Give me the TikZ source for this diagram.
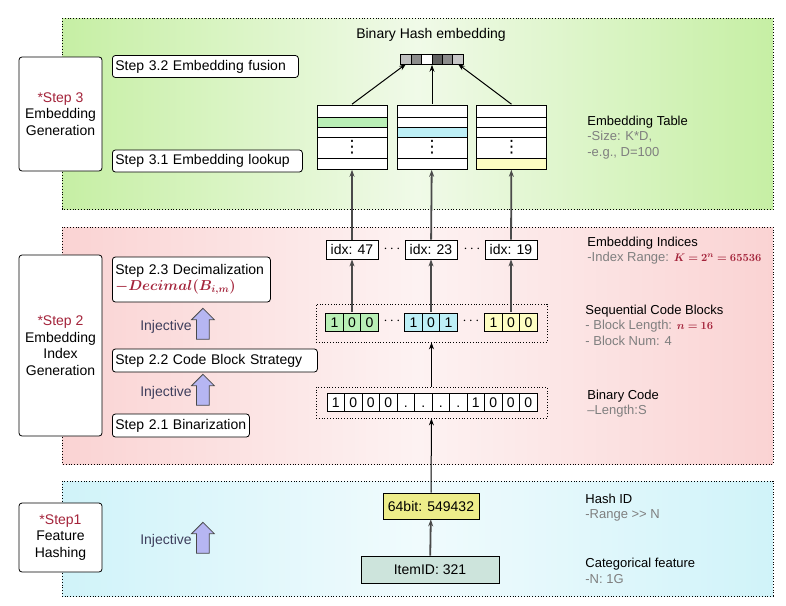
\documentclass[tikz,border=0pt]{standalone}
\usepackage{fontspec}
\setmainfont{Liberation Sans}
\newfontfamily\dotsfont{DejaVu Sans}
\usepackage{bm}
\usetikzlibrary{matrix,shapes.arrows,positioning,arrows.meta}

\definecolor{stepred}{HTML}{A4243B}
\definecolor{notegray}{HTML}{7F7F7F}
\definecolor{injtext}{HTML}{3E3E5C}
\definecolor{injfill}{HTML}{B6B6F2}
\definecolor{linkgray}{HTML}{4A4A4A}
\definecolor{greenedge}{HTML}{C6EFA4}
\definecolor{greenmid}{HTML}{F0FAE8}
\definecolor{pinkedge}{HTML}{FAD3D3}
\definecolor{pinkmid}{HTML}{FDF2F2}
\definecolor{blueedge}{HTML}{D0F3F9}
\definecolor{bluemid}{HTML}{F0FBFD}
\definecolor{codegreen}{HTML}{B9EFB6}
\definecolor{codecyan}{HTML}{BDEFF6}
\definecolor{codeyellow}{HTML}{FDFDC2}
\definecolor{hashyellow}{HTML}{EDED8A}
\definecolor{itemteal}{HTML}{CDE4DC}

\tikzset{
  stepbox/.style={draw, rounded corners=3pt, fill=white, align=center,
                  minimum width=83pt, inner sep=0pt},
  substep/.style={draw, rounded corners=3pt, fill=white, anchor=west,
                  align=left, inner xsep=3pt, inner ysep=0pt, minimum height=22pt},
  note/.style={anchor=west, align=left, inner sep=0pt,
               font=\fontsize{13}{15.5}\selectfont},
  injlabel/.style={text=injtext, inner sep=0pt},
  injarrow/.style={single arrow, draw=linkgray, fill=injfill,
                   shape border rotate=90, minimum height=31pt,
                   single arrow head extend=5pt, inner sep=6pt},
  idxbox/.style={draw, fill=white, minimum width=52pt, minimum height=19pt, inner sep=0pt},
  bitrow/.style={matrix of nodes, nodes in empty cells,
                 nodes={draw, fill=white, minimum width=17.5pt, minimum height=18pt,
                        text height=10pt, text depth=0pt,
                        inner sep=0pt, outer sep=0pt, anchor=center},
                 column sep=-\pgflinewidth, inner sep=0pt},
  embtab/.style={matrix of nodes, nodes in empty cells,
                 nodes={draw, fill=white, minimum width=70pt, minimum height=10pt,
                        inner sep=0pt, outer sep=0pt, anchor=center},
                 row 1/.append style={nodes={minimum height=12pt}},
                 row 4/.append style={nodes={minimum height=21pt,
                                             font=\dotsfont\fontsize{17}{17}\selectfont}},
                 row 5/.append style={nodes={minimum height=11pt}},
                 row sep=-\pgflinewidth, inner sep=0pt},
  groupbox/.style={draw, dotted, minimum width=231pt, inner sep=0pt},
  link/.style={->, line width=1pt},
  thicklink/.style={->, draw=linkgray, line width=1.8pt},
}

\begin{document}
\begin{tikzpicture}[x=1pt, y=-1pt, line width=0.8pt,
                    font=\fontsize{14}{16.5}\selectfont,
                    >={Stealth[length=7pt,width=5pt]}]
\useasboundingbox (0,0) rectangle (786,605);

% stage panels
\shade[left color=greenedge, right color=greenedge, middle color=greenmid] (62,18) rectangle (773,209);
\shade[left color=pinkedge, right color=pinkedge, middle color=pinkmid] (62,227) rectangle (773,464);
\shade[left color=blueedge, right color=blueedge, middle color=bluemid] (62,481) rectangle (773,596);
\draw[dotted] (62,18) rectangle (773,209);
\draw[dotted] (62,227) rectangle (773,464);
\draw[dotted] (62,481) rectangle (773,596);

% left column
\node[stepbox, minimum height=114pt] (stepC) at (60.5,114)
  {\textcolor{stepred}{*Step 3}\\Embedding\\Generation};
\node[stepbox, minimum height=181pt] (stepB) at (60.5,345.5)
  {\textcolor{stepred}{*Step 2}\\Embedding\\Index\\Generation};
\node[stepbox, minimum height=69pt] (stepA) at (60.5,537.5)
  {\textcolor{stepred}{*Step1}\\Feature\\Hashing};

\node[substep, text width=180pt] (fusion) at (112,66.5) {Step 3.2 Embedding fusion};
\node[substep, text width=184pt] (lookup) at (112,161) {Step 3.1 Embedding lookup};
\node[substep, text width=152pt, minimum height=45pt] (decimal) at (112,279.5)
  {Step 2.3 Decimalization\\\textcolor{stepred}{$\bm{-Decimal(B_{i,m})}$}};
\node[substep, text width=199pt, minimum height=23pt] (blocks) at (112,360.5) {Step 2.2 Code Block Strategy};
\node[substep, text width=131pt, minimum height=23pt] (binar) at (112,425.5) {Step 2.1 Binarization};

\node[injlabel] (injC) at (166,327) {Injective};
\node[injarrow, right=4pt of injC] (upC) {};
\node[injlabel] (injB) at (166,393) {Injective};
\node[injarrow, right=4pt of injB] (upB) {};
\node[injlabel] (injA) at (166,541) {Injective};
\node[injarrow, right=4pt of injA] (upA) {};

% embedding stage
\node (title) at (431,35) {Binary Hash embedding};
\matrix (vec) [matrix of nodes, nodes in empty cells,
               nodes={draw, minimum width=10.4pt, minimum height=10pt,
                      inner sep=0pt, outer sep=0pt},
               column 1/.append style={nodes={fill=black!25}},
               column 2/.append style={nodes={fill=black!45}},
               column 3/.append style={nodes={fill=white}},
               column 4/.append style={nodes={fill=black!62}},
               column 5/.append style={nodes={fill=black!45}},
               column 6/.append style={nodes={fill=black!22}},
               column sep=-\pgflinewidth, inner sep=0pt] at (432,59)
{ & & & & & \\};

\matrix (tabA) [embtab, row 2/.append style={nodes={fill=codegreen}}] at (352,137)
{ \\ \\ \\ ⋮ \\ \\};
\matrix (tabB) [embtab, row 3/.append style={nodes={fill=codecyan}}] at (432,137)
{ \\ \\ \\ ⋮ \\ \\};
\matrix (tabC) [embtab, row 5/.append style={nodes={fill=codeyellow}}] at (511.5,137)
{ \\ \\ \\ ⋮ \\ \\};

% index stage
\node[idxbox] (idxA) at (352,249.5) {idx: 47};
\node[idxbox] (idxB) at (431,249.5) {idx: 23};
\node[idxbox] (idxC) at (511,249.5) {idx: 19};
\node (gapA) at (392,249) {$\cdots$};
\node (gapB) at (472,249) {$\cdots$};

\node[groupbox, minimum height=38pt] (codebox) at (431.5,323) {};
\matrix (blkA) [bitrow, nodes={fill=codegreen}] at (352,322) {1 & 0 & 0 \\};
\matrix (blkB) [bitrow, nodes={fill=codecyan}] at (431,322) {1 & 0 & 1 \\};
\matrix (blkC) [bitrow, nodes={fill=codeyellow}] at (511,322) {1 & 0 & 0 \\};
\node (gapC) at (392,321) {$\cdots$};
\node (gapD) at (471,321) {$\cdots$};

\node[groupbox, minimum height=31pt] (binbox) at (431.5,402.5) {};
\matrix (bits) [bitrow] at (432,402)
{1 & 0 & 0 & 0 & . & . & . & . & 1 & 0 & 0 & 0 \\};

% hashing stage
\node[draw, fill=hashyellow, minimum width=96pt, minimum height=26pt] (hash) at (431,506) {64bit: 549432};
\node[draw, fill=itemteal, minimum width=138pt, minimum height=27pt] (item) at (430,569.5) {ItemID: 321};

% right notes
\node[note] (tabnote) at (587,137.5)
  {Embedding Table\\\textcolor{notegray}{-Size: K*D,}\\\textcolor{notegray}{-e.g., D=100}};
\node[note] (idxnote) at (587,250.5)
  {Embedding Indices\\\textcolor{notegray}{-Index Range: }\textcolor{stepred}{\fontsize{11}{13}\selectfont$\bm{K=2^n=65536}$}};
\node[note] (blknote) at (585,325)
  {Sequential Code Blocks\\\textcolor{notegray}{- Block Length: }\textcolor{stepred}{\fontsize{11}{13}\selectfont$\bm{n=16}$}\\\textcolor{notegray}{- Block Num: 4}};
\node[note] (binnote) at (587,403.5) {Binary Code\\\textcolor{notegray}{--Length:S}};
\node[note] (hashnote) at (585,507.5) {Hash ID\\\textcolor{notegray}{-Range >{}> N}};
\node[note] (itemnote) at (585,571) {Categorical feature\\\textcolor{notegray}{-N: 1G}};

% connectors
\draw[thicklink] (item) -- (hash);
\draw[link] (hash) -- (binbox);
\draw[link] (binbox) -- (codebox);
\draw[thicklink] (blkA) -- (idxA);
\draw[thicklink] (blkB) -- (idxB);
\draw[thicklink] (blkC) -- (idxC);
\draw[thicklink] (idxA) -- (tabA);
\draw[thicklink] (idxB) -- (tabB);
\draw[thicklink] (idxC) -- (tabC);
\draw[link] (tabA.north) -- (vec-1-1.south);
\draw[link] (tabB.north) -- (vec.south);
\draw[link] (tabC.north) -- (vec-1-6.south);
\end{tikzpicture}
\end{document}
